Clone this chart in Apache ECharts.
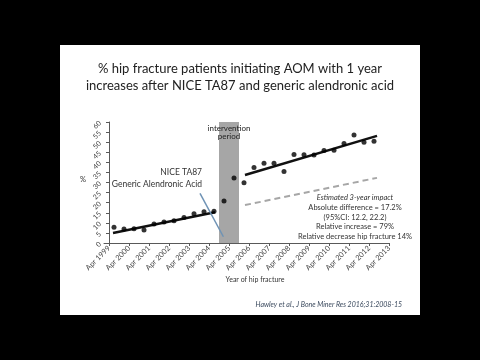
<!DOCTYPE html>
<html>
<head>
<meta charset="utf-8">
<script src="https://cdn.jsdelivr.net/npm/echarts@6/dist/echarts.min.js"></script>
<style>
html,body{margin:0;padding:0;background:#000;}
#c{width:480px;height:360px;}
</style>
</head>
<body>
<div id="c"></div>
<script>
// ---- data ----
const yearLabels = ['Apr 1999','Apr 2000','Apr 2001','Apr 2002','Apr 2003','Apr 2004','Apr 2005','Apr 2006','Apr 2007','Apr 2008','Apr 2009','Apr 2010','Apr 2011','Apr 2012','Apr 2013'];
const yearTicks = [0,1,2,3,4,5,6,7,8,9,10,11,12,13,14];
const periodX = [0.25,0.75,1.25,1.75,2.25,2.75,3.25,3.75,4.25,4.75,5.25,5.75,6.25,6.75,7.25,7.75,8.25,8.75,9.25,9.75,10.25,10.75,11.25,11.75,12.25,12.75,13.25];
const pctValues = [7.8,6.9,7.1,6.4,9.4,10.4,11.0,12.7,14.5,15.5,15.8,20.8,32.2,29.9,37.5,39.5,39.5,35.5,43.9,43.7,43.6,45.9,46.0,49.4,53.6,49.9,50.5];
const preTrend = [[0.2,5.0],[5.3,15.2]];
const postTrend = [[6.8,33.7],[13.4,53.1]];
const counterfactual = [[6.8,18.8],[13.4,32.3]];
const annotationLine = [[4.55,24.6],[5.72,3.1]];
const interventionPeriod = [5.5,6.5];
const yTicks = {min:0, max:60, step:5};
const titleLines = ['% hip fracture patients initiating AOM with 1 year','increases after NICE TA87 and generic alendronic acid'];
const impactLines = ['Estimated 3-year impact','Absolute difference = 17.2%','(95%CI: 12.2, 22.2)','Relative increase = 79%','Relative decrease hip fracture 14%'];
const citation = 'Hawley et al., J Bone Miner Res 2016;31:2008-15';

const FONT = 'Lato';
const chart = echarts.init(document.getElementById('c'));
const pts = periodX.map((x,i)=>[x,pctValues[i]]);

const graphics = [
  {type:'rect', z:-100, silent:true, shape:{x:60,y:45,width:360,height:270}, style:{fill:'#fff'}},
  {type:'text', style:{x:240,y:69,text:titleLines[0],font:'13px '+FONT,fill:'#222',textAlign:'center',textVerticalAlign:'middle'}},
  {type:'text', style:{x:240,y:86,text:titleLines[1],font:'13px '+FONT,fill:'#222',textAlign:'center',textVerticalAlign:'middle'}},
  {type:'text', style:{x:202,y:172,text:'NICE TA87',font:'8.5px '+FONT,fill:'#333',textAlign:'right',textVerticalAlign:'middle'}},
  {type:'text', style:{x:202,y:184,text:'Generic Alendronic Acid',font:'8.5px '+FONT,fill:'#333',textAlign:'right',textVerticalAlign:'middle'}},
  {type:'text', style:{x:83,y:180,text:'%',font:'7.5px '+FONT,fill:'#333',textAlign:'center',textVerticalAlign:'middle'}},
  {type:'text', style:{x:255,y:280,text:'Year of hip fracture',font:'7px '+FONT,fill:'#333',textAlign:'center',textVerticalAlign:'middle'}},
  {type:'text', style:{x:402,y:305,text:citation,font:'italic 7px '+FONT,fill:'#3b4a5e',textAlign:'right',textVerticalAlign:'middle'}}
];
const impactY = [198,207.7,217.3,227,236.7];
impactLines.forEach((t,i)=>{
  graphics.push({type:'text', style:{x:355,y:impactY[i],text:t,font:(i===0?'italic ':'')+'7.5px '+FONT,fill:'#333',textAlign:'center',textVerticalAlign:'middle'}});
});

chart.setOption({
  backgroundColor:'#000',
  animation:false,
  graphic:graphics,
  grid:{left:104,right:91,top:122,bottom:117},
  xAxis:{type:'value',min:-0.25,max:14,
    axisLine:{lineStyle:{color:'#595959',width:1}},
    axisTick:{show:true,length:3,customValues:yearTicks,lineStyle:{color:'#595959'}},
    axisLabel:{customValues:yearTicks,rotate:45,fontSize:7.5,fontFamily:FONT,color:'#444',margin:4,
      hideOverlap:false,formatter:(v)=>yearLabels[Math.round(v)]||''},
    splitLine:{show:false}},
  yAxis:{type:'value',min:yTicks.min,max:yTicks.max,interval:yTicks.step,
    axisLine:{show:true,lineStyle:{color:'#595959',width:1}},
    axisTick:{show:true,length:3,lineStyle:{color:'#595959'}},
    axisLabel:{rotate:45,fontSize:7,fontFamily:FONT,color:'#444',margin:4},
    splitLine:{show:false}},
  series:[
    {type:'scatter',data:pts,symbolSize:5,itemStyle:{color:'#000'},z:5,
     markArea:{silent:true,itemStyle:{color:'#a6a6a6'},
       label:{show:true,position:'insideTop',formatter:'intervention\nperiod',fontSize:8,fontFamily:FONT,color:'#222',lineHeight:8,distance:2},
       data:[[{xAxis:interventionPeriod[0],yAxis:yTicks.min},{xAxis:interventionPeriod[1],yAxis:yTicks.max}]]}},
    {type:'line',data:preTrend,symbol:'none',lineStyle:{color:'#111',width:2.5},z:4},
    {type:'line',data:postTrend,symbol:'none',lineStyle:{color:'#111',width:2.5},z:4},
    {type:'line',data:counterfactual,symbol:'none',lineStyle:{color:'#a6a6a6',width:2,type:[6,4]},z:4},
    {type:'line',data:annotationLine,symbol:'none',lineStyle:{color:'#6f93b5',width:1.5},z:6}
  ]
});
</script>
</body>
</html>
